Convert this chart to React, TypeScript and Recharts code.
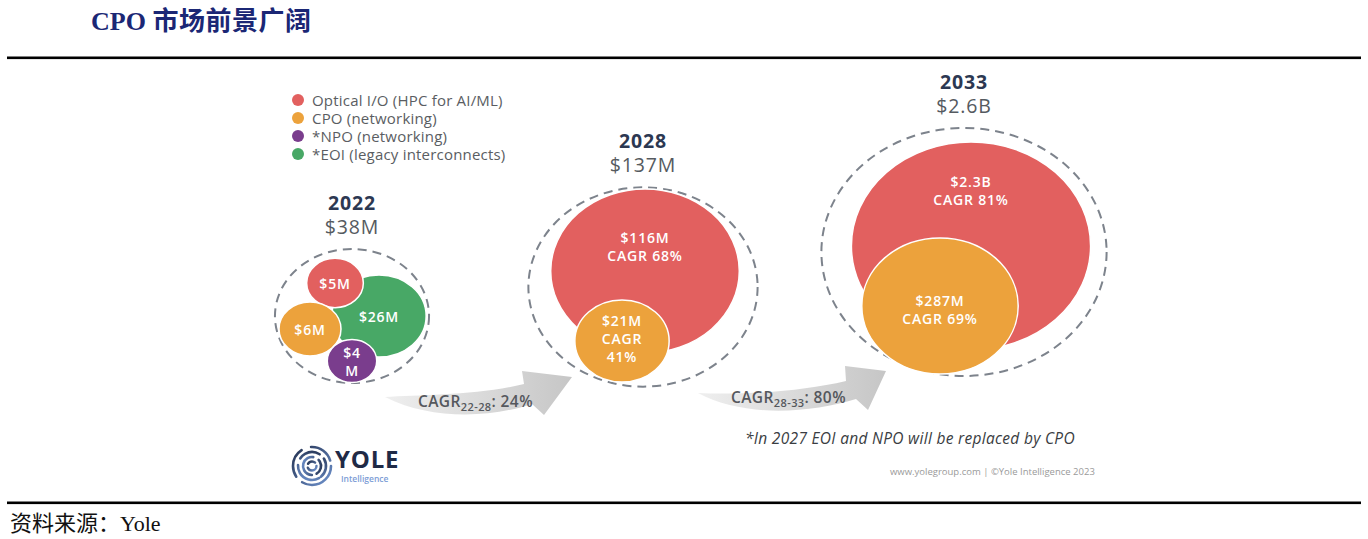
import React from 'react';
import { ScatterChart, Scatter, XAxis, YAxis, ZAxis } from 'recharts';

const W = 1368;
const H = 539;

// ---- data ($M unless noted) ----
const segments = ['Optical I/O (HPC for AI/ML)', 'CPO (networking)', '*NPO (networking)', '*EOI (legacy interconnects)'];
const segmentKeys = ['optical', 'cpo', 'npo', 'eoi'];
const years = ['2022', '2028', '2033'];
const totals = [38, 137, 2600];
const values2022 = [5, 6, 4, 26]; // optical, cpo, npo, eoi
const values2028 = [116, 21]; // optical, cpo
const cagr2028 = [68, 41];
const values2033 = [2300, 287]; // optical, cpo
const cagr2033 = [81, 69];
const periodLabels = ['22-28', '28-33'];
const periodCagr = [24, 80];

// ---- layout (chart units) ----
const ringCenters = [[352, 316], [643, 287], [964, 252]];
const centers2022: Record<string, number[]> = { eoi: [379, 316], optical: [335, 283], cpo: [310, 329], npo: [352, 361] };
const centers2028: Record<string, number[]> = { optical: [645, 271], cpo: [622, 341] };
const centers2033: Record<string, number[]> = { optical: [971, 246], cpo: [940, 306] };
const labelShift: Record<string, number> = { 'y2028-optical': -25, 'y2028-cpo': -3, 'y2033-optical': -56, 'y2033-cpo': 3 };
const drawOrder2022 = [3, 0, 1, 2];

// ---- styles ----
const FONT = "'Open Sans', 'Noto Sans', sans-serif";
const ASPECT = 1.15;
const palette: Record<string, string> = { optical: '#e2605f', cpo: '#eca23c', npo: '#7a3d8d', eoi: '#48a866' };

const fmt = (v: number) => (v >= 1000 ? `$${(v / 1000).toFixed(1)}B` : `$${v}M`);

const bubbles2022 = drawOrder2022.map((i) => {
  const key = segmentKeys[i];
  const label = fmt(values2022[i]);
  const lines = key === 'npo' ? [label.slice(0, -1), label.slice(-1)] : [label];
  return { key, x: centers2022[key][0], y: centers2022[key][1], z: values2022[i], lines, shift: 0 };
});

const bubbles2028 = values2028.map((v, i) => {
  const key = segmentKeys[i];
  const lines = key === 'cpo' ? [fmt(v), 'CAGR', `${cagr2028[i]}%`] : [fmt(v), `CAGR ${cagr2028[i]}%`];
  return { key, x: centers2028[key][0], y: centers2028[key][1], z: v, lines, shift: labelShift[`y2028-${key}`] };
});

const bubbles2033 = values2033.map((v, i) => {
  const key = segmentKeys[i];
  return { key, x: centers2033[key][0], y: centers2033[key][1], z: v, lines: [fmt(v), `CAGR ${cagr2033[i]}%`], shift: labelShift[`y2033-${key}`] };
});

const rings = years.map((yr, i) => ({ x: ringCenters[i][0], y: ringCenters[i][1], z: yr, year: yr, total: fmt(totals[i]) }));

const area = (r: number) => Math.PI * r * r;

function BubbleShape(props: any) {
  const { cx, cy, width, payload } = props;
  const ry = width / 2;
  const rx = ry * ASPECT;
  const lines: string[] = payload.lines;
  const lh = 18;
  const start = cy + payload.shift - ((lines.length - 1) * lh) / 2;
  return (
    <g>
      <ellipse cx={cx} cy={cy} rx={rx} ry={ry} fill={palette[payload.key]} stroke="#ffffff" strokeWidth={1.5} />
      <text textAnchor="middle" dominantBaseline="central" fontFamily={FONT} fontSize={14} fontWeight={600} letterSpacing={0.8} fill="#ffffff">
        {lines.map((l, i) => (
          <tspan key={i} x={cx} y={start + i * lh}>
            {l}
          </tspan>
        ))}
      </text>
    </g>
  );
}

function RingShape(props: any) {
  const { cx, cy, width, payload } = props;
  const ry = width / 2;
  const rx = ry * ASPECT;
  const top = cy - ry;
  return (
    <g>
      <ellipse cx={cx} cy={cy} rx={rx} ry={ry} fill="none" stroke="#7d838c" strokeWidth={2} strokeDasharray="9 6" />
      <text x={cx} y={top - 47} textAnchor="middle" dominantBaseline="central" fontFamily={FONT} fontSize={19.5} fontWeight={700} letterSpacing={0.9} fill="#2c3852">
        {payload.year}
      </text>
      <text x={cx} y={top - 23} textAnchor="middle" dominantBaseline="central" fontFamily={FONT} fontSize={19.5} letterSpacing={0.9} fill="#555a60">
        {payload.total}
      </text>
    </g>
  );
}

function Decor() {
  const arrowPaths = [
    'M385,397 C420,395 480,395 524,384 L522,371 L572,377 L544,415 L532,404 C490,418 430,420 385,397 Z',
    'M698,393 C740,395 800,392 846,381 L845,366 L886,371 L868,410 L856,399 C810,413 745,418 698,393 Z',
  ];
  const arrowText = [
    [418, 407],
    [731, 403],
  ];
  return (
    <svg width={W} height={H} style={{ position: 'absolute', left: 0, top: 0 }}>
      <defs>
        <linearGradient id="arrowFill" x1="0" x2="1" y1="0" y2="0">
          <stop offset="0" stopColor="#efefef" />
          <stop offset="1" stopColor="#c6c6c6" />
        </linearGradient>
        <linearGradient id="logoFill" x1="0" x2="1" y1="0" y2="1">
          <stop offset="0" stopColor="#22304f" />
          <stop offset="1" stopColor="#6f93cf" />
        </linearGradient>
      </defs>
      {/* heading */}
      <text x={91} y={30} fontSize={26} fontWeight={700} fill="#1b2775">
        <tspan fontFamily="'Liberation Serif', 'Times New Roman', serif">CPO </tspan>
        <tspan fontFamily="'Noto Sans CJK SC', sans-serif" letterSpacing={0.5}>市场前景广阔</tspan>
      </text>
      <rect x={7} y={56.5} width={1354} height={2.6} fill="#000" />
      <rect x={7} y={501.5} width={1354} height={2.6} fill="#000" />
      <text x={10} y={531} fontSize={22} fill="#111">
        <tspan fontFamily="'Noto Sans CJK SC', sans-serif">资料来源：</tspan>
        <tspan fontFamily="'Liberation Serif', 'Times New Roman', serif">Yole</tspan>
      </text>

      {/* legend */}
      {segments.map((s, i) => (
        <g key={s}>
          <circle cx={298} cy={100 + i * 18} r={6} fill={palette[segmentKeys[i]]} />
          <text x={312} y={100 + i * 18} dominantBaseline="central" fontFamily={FONT} fontSize={15} letterSpacing={0.2} fill="#5a5d62">
            {s}
          </text>
        </g>
      ))}

      {/* growth arrows */}
      {arrowPaths.map((d, i) => (
        <g key={i}>
          <path d={d} fill="url(#arrowFill)" />
          <text x={arrowText[i][0]} y={arrowText[i][1]} fontFamily={FONT} fontSize={15.5} fontWeight={600} letterSpacing={0.4} fill="#55585d">
            CAGR
            <tspan fontSize={11} dy={4}>
              {periodLabels[i]}
            </tspan>
            <tspan dy={-4}>{`: ${periodCagr[i]}%`}</tspan>
          </text>
        </g>
      ))}

      {/* logo */}
      <g fill="none" stroke="url(#logoFill)" strokeLinecap="round">
        <circle cx={312} cy={466} r={19} strokeWidth={2.6} strokeDasharray="40 8 30 10 25 6" />
        <circle cx={312} cy={466} r={14} strokeWidth={2.6} strokeDasharray="30 7 22 6 20 6" transform="rotate(60 312 466)" />
        <circle cx={312} cy={466} r={9} strokeWidth={2.6} strokeDasharray="20 6 16 5" transform="rotate(150 312 466)" />
        <circle cx={312} cy={466} r={4.5} strokeWidth={2.4} strokeDasharray="12 4 8 4" />
      </g>
      <text x={335} y={468} fontFamily={FONT} fontSize={24} fontWeight={700} fill="#1f2a46" letterSpacing={0.8}>
        YOLE
      </text>
      <text x={341} y={482} fontFamily={FONT} fontSize={8.5} fontWeight={600} fill="#7d9dd6">
        Intelligence
      </text>

      {/* notes */}
      <text x={745} y={444} fontFamily={FONT} fontSize={15.5} fontStyle="italic" fontWeight={500} letterSpacing={0.3} fill="#3a3d42">
        *In 2027 EOI and NPO will be replaced by CPO
      </text>
      <text x={890} y={475} fontFamily={FONT} fontSize={9.5} fill="#9a9a9a">
        www.yolegroup.com | ©Yole Intelligence 2023
      </text>
    </svg>
  );
}

export default function App() {
  const d22 = [Math.min(...values2022), Math.max(...values2022)];
  const d28 = [Math.min(...values2028), Math.max(...values2028)];
  const d33 = [Math.min(...values2033), Math.max(...values2033)];
  return (
    <div style={{ position: 'absolute', left: 0, top: 0, width: W, height: H, background: '#ffffff', overflow: 'hidden' }}>
      <Decor />
      <div style={{ position: 'absolute', left: 0, top: 0 }}>
        <ScatterChart width={W} height={H} margin={{ top: 0, right: 0, bottom: 0, left: 0 }}>
          <XAxis type="number" dataKey="x" domain={[0, W]} allowDataOverflow hide />
          <YAxis type="number" dataKey="y" domain={[0, H]} allowDataOverflow reversed hide />
          <ZAxis zAxisId="ring" type="category" dataKey="z" scale="point" range={[area(67), area(124)]} />
          <ZAxis zAxisId="y2022" type="number" dataKey="z" scale="log" domain={d22} range={[area(21.5), area(41)]} />
          <ZAxis zAxisId="y2028" type="number" dataKey="z" domain={d28} range={[area(41), area(82)]} />
          <ZAxis zAxisId="y2033" type="number" dataKey="z" domain={d33} range={[area(68), area(104)]} />
          <Scatter data={rings} zAxisId="ring" shape={RingShape} isAnimationActive={false} />
          <Scatter data={bubbles2022} zAxisId="y2022" shape={BubbleShape} isAnimationActive={false} />
          <Scatter data={bubbles2028} zAxisId="y2028" shape={BubbleShape} isAnimationActive={false} />
          <Scatter data={bubbles2033} zAxisId="y2033" shape={BubbleShape} isAnimationActive={false} />
        </ScatterChart>
      </div>
    </div>
  );
}
